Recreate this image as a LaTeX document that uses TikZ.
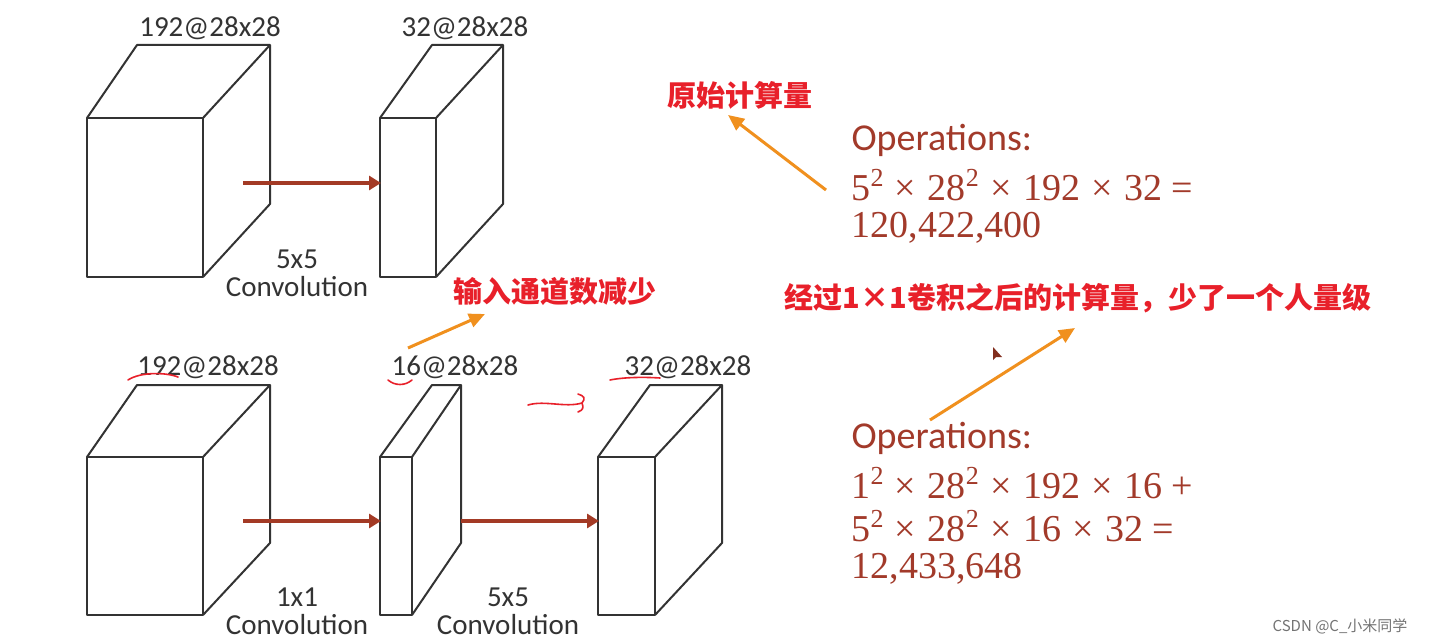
\documentclass[tikz,border=0pt]{standalone}
\usepackage{fontspec}
\setmainfont{Carlito}
\newfontfamily\cjk{Noto Sans CJK SC}
\newfontfamily\opsf{Liberation Serif}
\usetikzlibrary{arrows.meta}
\definecolor{darr}{HTML}{A33A25}
\definecolor{optxt}{HTML}{A23A2A}
\definecolor{orng}{HTML}{F0901E}
\definecolor{hred}{HTML}{E8202A}
\tikzset{
 cube/.style={draw=black!80,line width=2pt,fill=white,line join=round},
 dimlab/.style={font=\fontsize{29}{32}\selectfont,text=black!80},
 convlab/.style={font=\fontsize{29}{32}\selectfont,text=black!80,align=center},
 bigarr/.style={draw=darr,line width=3.5pt,-{Triangle[length=12pt,width=14pt]}},
 oarr/.style={draw=orng,line width=3pt,-{Triangle[length=16pt,width=14pt]}},
 note/.style={font=\cjk\bfseries\fontsize{29}{32}\selectfont,text=hred},
 ops/.style={font=\fontsize{38}{40}\selectfont,text=optxt,anchor=west},
 opsm/.style={font=\opsf\fontsize{38}{40}\selectfont,text=optxt,anchor=west},
 hand/.style={draw=hred,line width=1.6pt,line cap=round}
}
\newcommand{\mycube}[7]{% fx1 fy1 fx2 fy2 bx1 bx2 by1
 \fill[white] (#1,#2)--(#5,#7)--(#6,#7)--(#6,#7+#4-#2)--(#3,#4)--(#1,#4)--cycle;
 \draw[cube] (#1,#2)--(#5,#7)--(#6,#7)--(#6,#7+#4-#2)--(#3,#4);
 \draw[cube] (#3,#2)--(#6,#7);
 \draw[cube] (#1,#2) rectangle (#3,#4);}
\newcommand{\sq}{\raisebox{0.35em}{\fontsize{26}{28}\selectfont 2}}
\newcommand{\tm}{\hspace{0.3em}×\hspace{0.3em}}
\begin{document}
\begin{tikzpicture}[x=1pt,y=-1pt]
\useasboundingbox[fill=white] (0,0) rectangle (1443,644);
% top
\mycube{87}{118}{203}{277}{137}{270}{45}
\mycube{380}{118}{436}{277}{432}{503}{45}
\node[dimlab] (t1) at (210,28) {192@28x28};
\node[dimlab] (t2) at (465,28) {32@28x28};
\coordinate (a1s) at (243,183); \coordinate (a1e) at (381,183);
\draw[bigarr] (a1s)--(a1e);
\node[convlab] (c1) at (297,273) {5x5\\[-4pt]Convolution};
% bottom
\mycube{87}{457}{203}{615}{137}{270}{385}
\mycube{380}{457}{412}{615}{432}{461}{385}
\mycube{598}{457}{655}{615}{650}{722}{385}
\node[dimlab] (b1) at (208,367) {192@28x28};
\node[dimlab] (b2) at (455,367) {16@28x28};
\node[dimlab] (b3) at (688,367) {32@28x28};
\coordinate (a2s) at (243,521); \coordinate (a2e) at (381,521);
\coordinate (a3s) at (461,521); \coordinate (a3e) at (599,521);
\draw[bigarr] (a2s)--(a2e);
\draw[bigarr] (a3s)--(a3e);
\node[convlab] (c2) at (297,611) {1x1\\[-4pt]Convolution};
\node[convlab] (c3) at (508,611) {5x5\\[-4pt]Convolution};
% handwriting
\draw[hand] (128,380) .. controls (140,372) and (165,372) .. (178,377);
\draw[hand] (388,380) .. controls (395,386) and (405,386) .. (412,380);
\draw[hand] (610,380) .. controls (625,377) and (645,377) .. (660,378);
\draw[hand] (528,405) .. controls (545,400) and (565,408) .. (582,403) .. controls (586,398) and (584,396) .. (578,394);
\draw[hand] (582,403) .. controls (584,408) and (583,410) .. (578,412);
% red notes
\node[note] (n1) at (740,95) {原始计算量};
\node[note] (n2) at (555,292) {输入通道数减少};
\node[note] (n3) at (1078,298) {经过\textit{1×1}卷积之后的计算量，少了一个人量级};
\coordinate (o1s) at (826,190); \coordinate (o2s) at (408,348); \coordinate (o3s) at (930,420);
\draw[oarr] (o1s)--(728,115);
\draw[oarr] (o2s)--(485,314);
\draw[oarr] (o3s)--(1075,328);
% operations
\node[ops] (op1) at (848,140) {Operations:};
\node[opsm] (op2) at (848,185) {5\sq\tm28\sq\tm192\tm32 =};
\node[opsm] (op3) at (848,228) {120,422,400};
\node[ops] (op4) at (848,438) {Operations:};
\node[opsm] (op5) at (848,483) {1\sq\tm28\sq\tm192\tm16 +};
\node[opsm] (op6) at (848,526) {5\sq\tm28\sq\tm16\tm32 =};
\node[opsm] (op7) at (848,569) {12,433,648};
% cursor
\fill[darr!80!black] (993,347)--(993,360)--(996,357)--(1002,357)--cycle;
\node[font=\cjk\fontsize{15}{18}\selectfont,text=black!55] (wm) at (1340,626) {CSDN @C\_小米同学};
\end{tikzpicture}
\end{document}
